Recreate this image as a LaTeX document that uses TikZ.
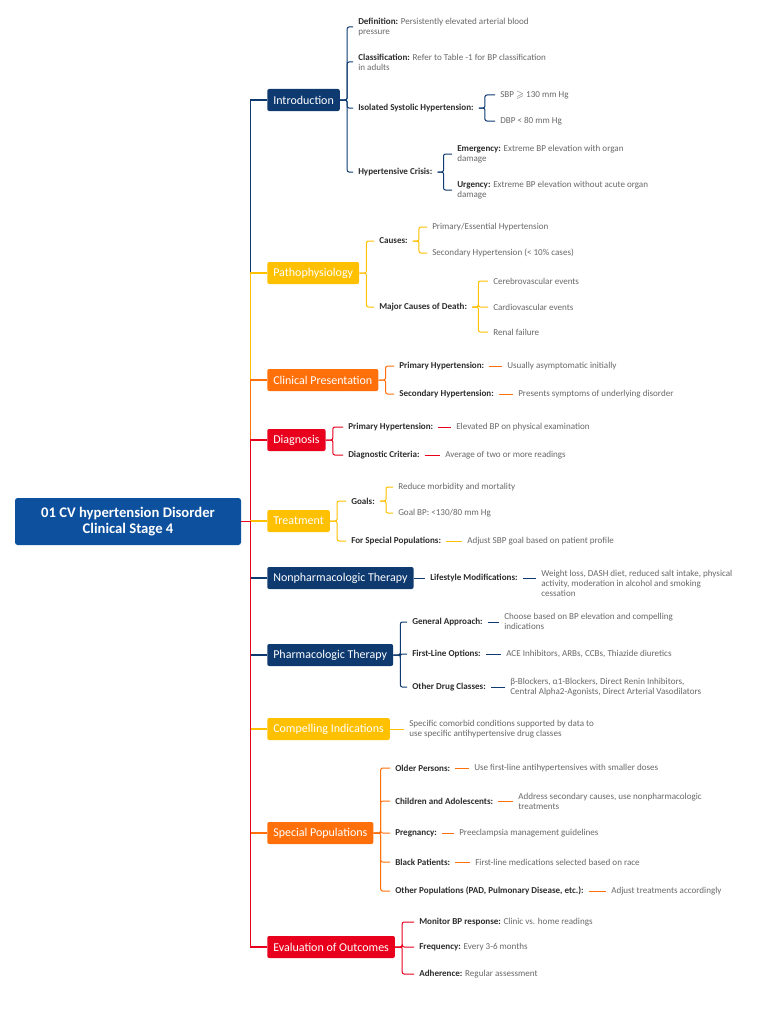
\documentclass[tikz,border=0pt]{standalone}
\usepackage{amssymb}
\usepackage{fontspec}
\setmainfont{Carlito}
\usepackage{tikz}
\usetikzlibrary{calc}
\definecolor{rootB}{RGB}{12,80,158}
\definecolor{navyB}{RGB}{14,58,112}
\definecolor{ambr}{RGB}{255,192,0}
\definecolor{orng}{RGB}{255,112,10}
\definecolor{redB}{RGB}{232,0,28}
\definecolor{ink}{RGB}{45,45,45}
\definecolor{gray6}{RGB}{105,105,105}

\newcommand{\hd}[1]{{\bfseries\color{ink}#1}}

\begin{document}
\begin{tikzpicture}[
  x=0.75pt,y=-0.75pt,
  rootbox/.style={fill=rootB,text=white,rounded corners=2pt,font=\fontsize{11}{12}\selectfont\bfseries,align=center,minimum width=169.5pt,minimum height=35.25pt},
  br/.style={fill=#1,text=white,rounded corners=1.5pt,font=\fontsize{9}{10}\selectfont,inner xsep=4.5pt,minimum height=16.5pt,anchor=west},
  lab/.style={font=\fontsize{6.8}{7.5}\selectfont\bfseries,text=ink,inner xsep=3.75pt,inner ysep=0pt,anchor=west},
  det/.style={font=\fontsize{6.8}{7.5}\selectfont,text=gray6,inner xsep=3.75pt,inner ysep=0pt,anchor=west,align=left},
  trunk/.style={draw=#1,line width=1.1pt},
  twig/.style={draw=#1,line width=0.75pt,rounded corners=1.5pt}
]
  \useasboundingbox[fill=white] (0,0) rectangle (768,1024);

  % Central topic
  \node[rootbox] (root) at (128,521.5) {01 CV hypertension Disorder\\Clinical Stage 4};

  % Main branches
  \node[br=navyB] (intro) at (267,100) {Introduction};
  \node[br=ambr] (patho) at (267,273) {Pathophysiology};
  \node[br=orng] (clin) at (267,380) {Clinical Presentation};
  \node[br=redB] (diag) at (267,440) {Diagnosis};
  \node[br=ambr] (treat) at (267,521) {Treatment};
  \node[br=navyB] (nonph) at (267,578) {Nonpharmacologic Therapy};
  \node[br=navyB] (pharm) at (267,655) {Pharmacologic Therapy};
  \node[br=ambr] (comp) at (267,729) {Compelling Indications};
  \node[br=orng] (spec) at (267,833) {Special Populations};
  \node[br=redB] (evalo) at (267,947) {Evaluation of Outcomes};

  \foreach \b/\c in {intro/navyB,patho/ambr,clin/orng,diag/redB,treat/ambr,
                     nonph/navyB,pharm/navyB,comp/ambr,spec/orng,evalo/redB}
    \draw[trunk=\c] (root.east) -- ++(9,0) |- (\b.west);

  % Introduction
  \node[det] (defi) at (353,27) {\hd{Definition:} Persistently elevated arterial blood\\pressure};
  \node[det] (clas) at (353,62) {\hd{Classification:} Refer to Table -1 for BP classification\\in adults};
  \node[lab] (ish) at (353,108) {Isolated Systolic Hypertension:};
  \node[lab] (crisis) at (353,172) {Hypertensive Crisis:};
  \foreach \k in {defi,clas,ish,crisis}
    \draw[twig=navyB] (intro.east) -- ++(7,0) |- (\k.west);
  \node[det] (sbp) at (495,95) {SBP $\geqslant$ 130 mm Hg};
  \node[det] (dbp) at (495,121) {DBP < 80 mm Hg};
  \foreach \k in {sbp,dbp}
    \draw[twig=navyB] (ish.east) -- ++(6,0) |- (\k.west);
  \node[det] (emer) at (452,154) {\hd{Emergency:} Extreme BP elevation with organ\\damage};
  \node[det] (urg) at (452,190) {\hd{Urgency:} Extreme BP elevation without acute organ\\damage};
  \foreach \k in {emer,urg}
    \draw[twig=navyB] (crisis.east) -- ++(6,0) |- (\k.west);

  % Pathophysiology
  \node[lab] (cause) at (374,241) {Causes:};
  \node[lab] (death) at (374,307) {Major Causes of Death:};
  \foreach \k in {cause,death}
    \draw[twig=ambr] (patho.east) -- ++(7,0) |- (\k.west);
  \node[det] (prim) at (427,227) {Primary/Essential Hypertension};
  \node[det] (seco) at (427,253) {Secondary Hypertension (< 10\% cases)};
  \foreach \k in {prim,seco}
    \draw[twig=ambr] (cause.east) -- ++(6,0) |- (\k.west);
  \node[det] (cere) at (488,281) {Cerebrovascular events};
  \node[det] (card) at (488,307) {Cardiovascular events};
  \node[det] (rena) at (488,332) {Renal failure};
  \foreach \k in {cere,card,rena}
    \draw[twig=ambr] (death.east) -- ++(6,0) |- (\k.west);

  % Clinical Presentation
  \node[lab] (cpa) at (394,366) {Primary Hypertension:};
  \node[lab] (cpb) at (394,394) {Secondary Hypertension:};
  \node[det] (cpad) at (502,366) {Usually asymptomatic initially};
  \node[det] (cpbd) at (513,394) {Presents symptoms of underlying disorder};
  \foreach \k in {cpa,cpb}
    \draw[twig=orng] (clin.east) -- ++(7,0) |- (\k.west);
  \draw[twig=orng] (cpa.east) -- (cpad.west);
  \draw[twig=orng] (cpb.east) -- (cpbd.west);

  % Diagnosis
  \node[lab] (dga) at (343,427) {Primary Hypertension:};
  \node[lab] (dgb) at (343,455) {Diagnostic Criteria:};
  \node[det] (dgad) at (451,427) {Elevated BP on physical examination};
  \node[det] (dgbd) at (440,455) {Average of two or more readings};
  \foreach \k in {dga,dgb}
    \draw[twig=redB] (diag.east) -- ++(7,0) |- (\k.west);
  \draw[twig=redB] (dga.east) -- (dgad.west);
  \draw[twig=redB] (dgb.east) -- (dgbd.west);

  % Treatment
  \node[lab] (goal) at (346,501) {Goals:};
  \node[lab] (fsp) at (346,541) {For Special Populations:};
  \foreach \k in {goal,fsp}
    \draw[twig=ambr] (treat.east) -- ++(7,0) |- (\k.west);
  \node[det] (gla) at (393,487) {Reduce morbidity and mortality};
  \node[det] (glb) at (393,513) {Goal BP: <130/80 mm Hg};
  \foreach \k in {gla,glb}
    \draw[twig=ambr] (goal.east) -- ++(6,0) |- (\k.west);
  \node[det] (fspd) at (462,541) {Adjust SBP goal based on patient profile};
  \draw[twig=ambr] (fsp.east) -- (fspd.west);

  % Nonpharmacologic Therapy
  \node[lab] (life) at (425,578) {Lifestyle Modifications:};
  \node[det] (lifed) at (536,583) {Weight loss, DASH diet, reduced salt intake, physical\\activity, moderation in alcohol and smoking\\cessation};
  \draw[twig=navyB] (nonph.east) -- (life.west);
  \draw[twig=navyB] (life.east) -- (life.east -| lifed.west);

  % Pharmacologic Therapy
  \node[lab] (gen) at (407,622) {General Approach:};
  \node[lab] (fir) at (407,654) {First-Line Options:};
  \node[lab] (oth) at (407,687) {Other Drug Classes:};
  \foreach \k in {gen,fir,oth}
    \draw[twig=navyB] (pharm.east) -- ++(7,0) |- (\k.west);
  \node[det] (gend) at (499,621) {Choose based on BP elevation and compelling\\indications};
  \node[det] (fird) at (501,654) {ACE Inhibitors, ARBs, CCBs, Thiazide diuretics};
  \node[det] (othd) at (505,687) {β-Blockers, α1-Blockers, Direct Renin Inhibitors,\\Central Alpha2-Agonists, Direct Arterial Vasodilators};
  \foreach \k in {gen,fir,oth}
    \draw[twig=navyB] (\k.east) -- (\k.east -| \k d.west);

  % Compelling Indications
  \node[det] (compd) at (404,729) {Specific comorbid conditions supported by data to\\use specific antihypertensive drug classes};
  \draw[twig=ambr] (comp.east) -- (compd.west);

  % Special Populations
  \foreach \k/\y/\l/\x/\d in {
      spa/768/{Older Persons:}/469/{Use first-line antihypertensives with smaller doses},
      spb/801/{Children and Adolescents:}/513/{Address secondary causes, use nonpharmacologic\\treatments},
      spc/833/{Pregnancy:}/454/{Preeclampsia management guidelines},
      spd/862/{Black Patients:}/470/{First-line medications selected based on race},
      spe/891/{Other Populations (PAD, Pulmonary Disease, etc.):}/606/{Adjust treatments accordingly}} {
    \node[lab] (\k) at (390,\y) {\l};
    \node[det] (\k d) at (\x,\y) {\d};
    \draw[twig=orng] (spec.east) -- ++(7,0) |- (\k.west);
    \draw[twig=orng] (\k.east) -- (\k d.west);
  }

  % Evaluation of Outcomes
  \node[det] (mon) at (414,922) {\hd{Monitor BP response:} Clinic vs. home readings};
  \node[det] (freq) at (414,947) {\hd{Frequency:} Every 3-6 months};
  \node[det] (adh) at (414,974) {\hd{Adherence:} Regular assessment};
  \foreach \k in {mon,freq,adh}
    \draw[twig=redB] (evalo.east) -- ++(7,0) |- (\k.west);
\end{tikzpicture}
\end{document}
